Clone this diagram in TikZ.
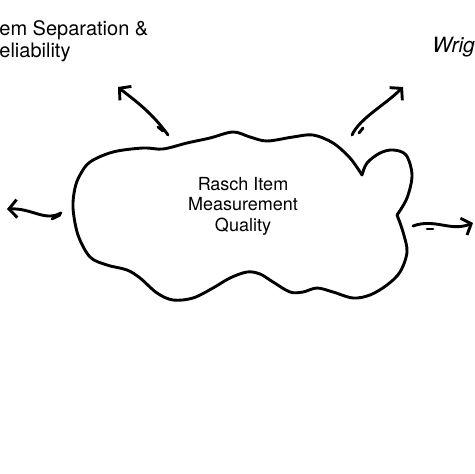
\documentclass[tikz,border=0pt]{standalone}
\usepackage{fontspec}
\setmainfont{TeX Gyre Heros}
\usetikzlibrary{arrows.meta}
\tikzset{
	sketch/.style = {line width = 1.45pt, line cap = round, line join = round},
	hand arrow/.style = {sketch, -{Straight Barb[length = 4pt, width = 9pt, line width = 1.45pt]}},
	label text/.style = {inner sep = 0pt, font = \fontsize{10}{11}\selectfont},
	cloud text/.style = {inner sep = 0pt, align = center, font = \fontsize{9}{10.25}\selectfont}
}

\begin{document}
\begin{tikzpicture}[x = 0.5pt, y = -0.5pt]
	\useasboundingbox (0,0) rectangle (474,474);
	\clip (0,0) rectangle (474,474);

	% the cloud, drawn in two strokes that meet at the notches
	\draw [sketch] plot [smooth, tension = 0.55] coordinates {(362,175) (367,163) (380,153) (393,150) (406,155) (412,175) (407,198) (397,215)};
	\draw [sketch] plot [smooth, tension = 0.55] coordinates {(397,215) (403,232) (407,252) (400,272) (387,285) (370,295) (353,298) (333,292) (317,288) (303,292) (290,292) (273,282) (260,274) (247,272) (230,278) (213,288) (193,298) (173,300) (157,293) (140,278) (127,270) (107,265) (90,257) (78,235) (73,208) (75,188) (80,175) (90,162) (113,152) (143,148) (163,149) (187,143) (210,138) (233,132) (250,137) (267,141) (293,137) (313,135) (333,143) (350,158) (362,175)};
	\node [cloud text] (quality) at (243,206) {Rasch Item\\Measurement\\Quality};

	% labels
	\node [label text, anchor = base west] (separation) at (-1,36) {em Separation \&};
	\node [label text, anchor = base west] (reliability) at (-1,58) {eliability};
	\node [label text, anchor = base west, font = \fontsize{10.5}{12}\selectfont\itshape] (wright) at (432,53) {Wrig};

	% arrows out of the cloud
	\coordinate (tl tail) at (168,135);
	\coordinate (tl tip) at (118,87);
	\draw [hand arrow] (tl tail) .. controls (150,110) and (130,97) .. (tl tip);
	\draw [sketch] (158,127) -- (163,131);

	\coordinate (tr tail) at (352,135);
	\coordinate (tr tip) at (403,87);
	\draw [hand arrow] (tr tail) .. controls (360,118) and (385,105) .. (tr tip);
	\draw [sketch] (359,133) -- (363,128);

	\coordinate (l tail) at (61,213);
	\coordinate (l tip) at (7,209);
	\draw [hand arrow] (l tail) .. controls (45,222) and (32,208) .. (l tip);
	\draw [sketch] (52,219) -- (60,215);

	\coordinate (r tail) at (413,226);
	\coordinate (r tip) at (473,223);
	\draw [hand arrow] (r tail) .. controls (435,218) and (450,232) .. (r tip);
	\draw [sketch] (427,229) -- (433,229);
\end{tikzpicture}
\end{document}
